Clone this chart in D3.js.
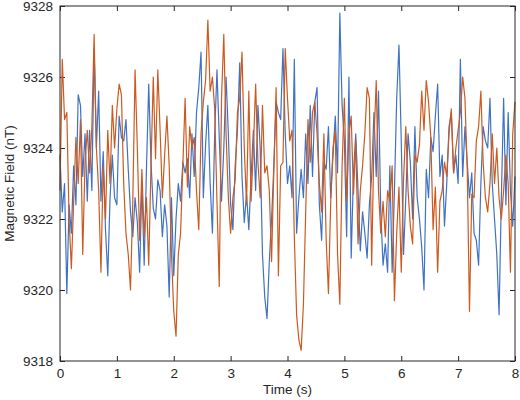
<!DOCTYPE html>
<html>
<head>
<meta charset="utf-8">
<script src="https://cdn.jsdelivr.net/npm/d3@7"></script>
<style>
  body { margin: 0; background: #fff; overflow: hidden; }
  svg { display: block; }
  text { font-family: "Liberation Sans", Arial, Helvetica, sans-serif; fill: #262626; }
</style>
</head>
<body>
<svg id="chart"></svg>
<script>
// sample spacing of both traces, seconds
const sampleStep = 0.04;

const timeTicks = [0, 1, 2, 3, 4, 5, 6, 7, 8];
const fieldTicks = [9318, 9320, 9322, 9324, 9326, 9328];

const blueField = [
  9323.8, 9322.2, 9323.0, 9319.9, 9322.4, 9321.6, 9323.5, 9322.4, 9325.5, 9325.2, 9323.2, 9324.4, 9322.5, 9324.5, 9322.8, 9326.8, 9324.0, 9325.6, 9322.5, 9323.9, 9321.7, 9320.4, 9322.6, 9323.8, 9322.6,
  9322.4, 9324.9, 9324.3, 9324.2, 9324.8, 9323.4, 9322.2, 9321.5, 9322.6, 9321.9, 9320.5, 9323.0, 9320.7, 9323.4, 9325.8, 9323.6, 9322.3, 9322.0, 9323.1, 9322.8, 9321.5, 9322.4, 9321.8, 9319.8, 9322.6,
  9320.4, 9322.0, 9323.0, 9322.5, 9323.6, 9323.3, 9323.7, 9322.6, 9324.4, 9323.2, 9325.0, 9325.7, 9326.7, 9322.6, 9324.1, 9325.2, 9323.0, 9321.6, 9324.4, 9326.2, 9324.3, 9322.5, 9324.0, 9326.0, 9324.4,
  9322.4, 9321.7, 9323.5, 9324.5, 9326.4, 9323.2, 9321.9, 9322.7, 9321.7, 9323.2, 9324.5, 9322.8, 9325.2, 9324.0, 9321.0, 9319.8, 9319.2, 9320.8, 9322.0, 9323.5, 9325.3, 9325.0, 9324.8, 9326.8, 9324.4,
  9323.0, 9323.5, 9322.6, 9326.5, 9321.6, 9322.6, 9323.4, 9322.6, 9324.4, 9323.0, 9325.2, 9323.2, 9325.3, 9325.7, 9322.4, 9321.4, 9323.6, 9323.4, 9324.6, 9322.6, 9323.8, 9324.9, 9323.3, 9327.8, 9325.2,
  9324.2, 9321.5, 9326.0, 9320.9, 9323.3, 9324.4, 9322.8, 9321.1, 9322.2, 9321.6, 9320.9, 9322.4, 9323.2, 9325.0, 9323.2, 9325.6, 9322.2, 9320.7, 9321.3, 9320.5, 9323.5, 9320.5, 9322.8, 9325.4, 9326.9,
  9324.2, 9321.0, 9322.6, 9324.4, 9323.6, 9322.0, 9324.6, 9322.6, 9322.0, 9321.2, 9320.0, 9323.4, 9322.6, 9324.3, 9323.9, 9324.9, 9325.8, 9323.2, 9323.8, 9321.8, 9323.0, 9324.6, 9325.0, 9323.3, 9323.8,
  9323.0, 9326.5, 9323.2, 9324.6, 9323.6, 9322.6, 9323.3, 9321.6, 9321.4, 9320.7, 9323.0, 9324.6, 9324.2, 9324.0, 9325.4, 9323.0, 9322.0, 9321.0, 9319.3, 9322.6, 9325.4, 9322.4, 9325.0, 9322.8, 9321.8, 9323.2
];

const orangeField = [
  9322.8, 9326.5, 9324.8, 9325.0, 9322.0, 9320.6, 9322.5, 9324.3, 9323.0, 9324.8, 9321.0, 9323.6, 9324.5, 9323.3, 9324.6, 9327.2, 9324.0, 9322.8, 9320.5, 9323.5, 9322.0, 9324.5, 9323.0, 9325.2, 9324.0,
  9325.1, 9325.8, 9325.5, 9323.0, 9321.6, 9321.0, 9320.0, 9322.5, 9326.2, 9324.0, 9321.4, 9323.4, 9321.5, 9322.6, 9320.7, 9323.5, 9326.0, 9323.7, 9326.2, 9324.5, 9322.6, 9323.8, 9324.9, 9323.5, 9321.0,
  9319.4, 9318.7, 9321.0, 9321.6, 9323.5, 9325.4, 9322.9, 9324.6, 9324.0, 9324.3, 9322.8, 9321.7, 9324.4, 9325.3, 9325.9, 9327.6, 9325.6, 9326.0, 9325.1, 9322.5, 9320.1, 9325.4, 9327.2, 9324.4, 9322.6,
  9321.6, 9322.6, 9323.1, 9325.0, 9325.4, 9326.7, 9324.0, 9322.4, 9325.6, 9322.5, 9324.0, 9325.8, 9323.6, 9322.6, 9325.2, 9323.3, 9323.5, 9322.8, 9320.8, 9323.4, 9325.7, 9320.4, 9323.5, 9323.6, 9326.8,
  9325.4, 9324.2, 9324.5, 9321.5, 9319.3, 9318.6, 9318.3, 9319.6, 9322.2, 9324.8, 9323.6, 9325.0, 9325.3, 9324.4, 9323.0, 9322.2, 9324.4, 9321.4, 9319.9, 9322.5, 9324.0, 9324.5, 9321.0, 9319.6, 9323.5,
  9325.4, 9322.5, 9324.4, 9324.9, 9322.7, 9324.2, 9321.3, 9322.8, 9323.5, 9324.4, 9325.7, 9325.4, 9320.7, 9324.2, 9325.9, 9322.8, 9321.6, 9322.5, 9321.5, 9322.8, 9322.5, 9323.5, 9319.7, 9321.6, 9322.9,
  9320.5, 9323.1, 9324.6, 9322.8, 9321.8, 9321.3, 9323.8, 9323.6, 9324.1, 9325.6, 9324.5, 9325.9, 9325.3, 9324.3, 9321.7, 9322.9, 9320.5, 9322.5, 9322.8, 9323.6, 9323.2, 9324.4, 9325.1, 9323.3, 9324.0,
  9324.5, 9325.0, 9326.0, 9325.4, 9323.4, 9319.4, 9322.7, 9322.6, 9324.2, 9324.6, 9325.6, 9323.6, 9322.6, 9322.2, 9323.0, 9324.4, 9323.0, 9324.0, 9322.6, 9322.0, 9322.8, 9323.8, 9323.0, 9320.5, 9324.4, 9325.3
];

let width = 520;
let height = 400;
let margin = { top: 6, right: 5, bottom: 39, left: 60 };
let innerWidth = width - margin.left - margin.right;
let innerHeight = height - margin.top - margin.bottom;

let svg = d3.select('#chart').attr('width', width).attr('height', height);
let focus = svg.append('g').attr('transform', `translate(${margin.left}, ${margin.top})`);

let xScale = d3.scaleLinear().domain([0, 8]).range([0, innerWidth]);
let yScale = d3.scaleLinear().domain([9318, 9328]).range([innerHeight, 0]);

// axes: MATLAB-like inward ticks on all four sides
function styleAxis(g) {
  g.select('.domain').remove();
  g.selectAll('.tick line').attr('stroke', '#262626').attr('stroke-width', 1);
  g.selectAll('.tick text').style('font-size', '13.5px').attr('fill', '#262626');
}

focus.append('g')
  .attr('transform', `translate(0, ${innerHeight})`)
  .call(d3.axisBottom(xScale).tickValues(timeTicks).tickSizeInner(-5).tickSizeOuter(0).tickPadding(7).tickFormat(d3.format('d')))
  .call(styleAxis);

focus.append('g')
  .call(d3.axisTop(xScale).tickValues(timeTicks).tickSizeInner(-5).tickSizeOuter(0).tickFormat(''))
  .call(styleAxis);

focus.append('g')
  .call(d3.axisLeft(yScale).tickValues(fieldTicks).tickSizeInner(-5).tickSizeOuter(0).tickPadding(7).tickFormat(d3.format('d')))
  .call(styleAxis);

focus.append('g')
  .attr('transform', `translate(${innerWidth}, 0)`)
  .call(d3.axisRight(yScale).tickValues(fieldTicks).tickSizeInner(-5).tickSizeOuter(0).tickFormat(''))
  .call(styleAxis);

// traces
let line = d3.line()
  .x((d, i) => xScale(i * sampleStep))
  .y(d => yScale(d));

let traces = [
  { values: blueField, color: '#3f72c4' },
  { values: orangeField, color: '#cc5a1f' }
];

focus.append('g')
  .selectAll('path')
  .data(traces)
  .enter()
  .append('path')
  .attr('fill', 'none')
  .attr('stroke', d => d.color)
  .attr('stroke-width', 1.2)
  .attr('stroke-linejoin', 'round')
  .attr('d', d => line(d.values));

// box
focus.append('rect')
  .attr('width', innerWidth)
  .attr('height', innerHeight)
  .attr('fill', 'none')
  .attr('stroke', '#262626')
  .attr('stroke-width', 1);

// labels
svg.append('text')
  .attr('x', margin.left + innerWidth / 2)
  .attr('y', 394)
  .attr('text-anchor', 'middle')
  .style('font-size', '13.5px')
  .text('Time (s)');

svg.append('text')
  .attr('transform', `translate(14, ${margin.top + innerHeight / 2}) rotate(-90)`)
  .attr('text-anchor', 'middle')
  .style('font-size', '13.5px')
  .text('Magnetic Field (nT)');
</script>
</body>
</html>
